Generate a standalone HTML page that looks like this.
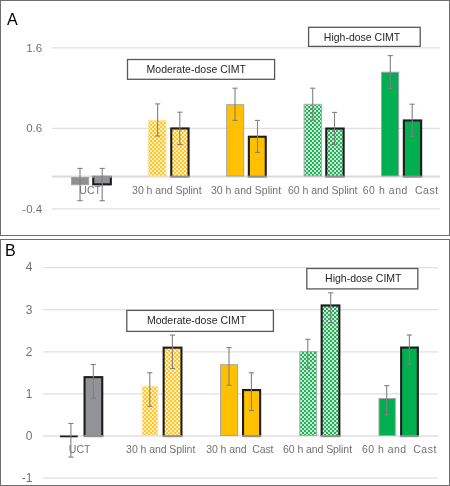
<!DOCTYPE html>
<html><head><meta charset="utf-8"><title>Chart</title>
<style>html,body{margin:0;padding:0;background:#fff;}svg{display:block;}</style>
</head><body>
<svg width="450" height="486" viewBox="0 0 450 486" font-family="Liberation Sans, Arial, sans-serif">
<defs>
<pattern id="pg" width="4" height="4" patternUnits="userSpaceOnUse">
<rect width="4" height="4" fill="#FFC829"/>
<rect x="0" y="0" width="2" height="2" fill="#FFEDC0"/>
<rect x="2" y="2" width="2" height="2" fill="#FFEDC0"/>
</pattern>
<pattern id="pn" width="4" height="4" patternUnits="userSpaceOnUse">
<rect width="4" height="4" fill="#22B25A"/>
<rect x="0" y="0" width="2" height="2" fill="#C8EAD4"/>
<rect x="2" y="2" width="2" height="2" fill="#C8EAD4"/>
</pattern>
</defs>
<rect x="0.5" y="0.5" width="449" height="235" fill="#fff" stroke="#6e6e6e" stroke-width="1"/>
<text x="7" y="25" font-size="16" fill="#000" text-anchor="start">A</text>
<line x1="52" y1="47.90" x2="440" y2="47.90" stroke="#e0e0e0" stroke-width="1.3"/>
<line x1="52" y1="128.40" x2="440" y2="128.40" stroke="#e0e0e0" stroke-width="1.3"/>
<line x1="52" y1="208.80" x2="440" y2="208.80" stroke="#e0e0e0" stroke-width="1.3"/>
<line x1="52" y1="176.50" x2="440" y2="176.50" stroke="#dadada" stroke-width="1.8"/>
<text x="42.2" y="52" font-size="11.5" fill="#727272" text-anchor="end">1.6</text>
<text x="42.2" y="132" font-size="11.5" fill="#727272" text-anchor="end">0.6</text>
<text x="42.2" y="212.6" font-size="11.5" fill="#727272" text-anchor="end">-0.4</text>
<rect x="71.50" y="177.50" width="17.20" height="7.20" fill="#909090" stroke="#a3a3a8" stroke-width="1"/>
<rect x="92.20" y="176.50" width="19.70" height="8.90" fill="#1e1c1c"/>
<rect x="94.30" y="176.50" width="15.50" height="6.80" fill="#929396"/>
<rect x="92.20" y="175.60" width="19.70" height="2.1" fill="#929292"/>
<rect x="148.50" y="120.50" width="17.50" height="55.50" fill="url(#pg)" stroke="#FFE2A0" stroke-width="1"/>
<rect x="170.20" y="127.40" width="19.40" height="49.10" fill="#1e1c1c"/>
<rect x="172.30" y="129.50" width="15.20" height="47.00" fill="url(#pg)"/>
<rect x="170.20" y="175.60" width="19.40" height="2.1" fill="#929292"/>
<rect x="226.70" y="104.70" width="17.00" height="71.30" fill="#FFC000" stroke="#a3a3a8" stroke-width="1"/>
<rect x="247.80" y="135.70" width="19.00" height="40.80" fill="#1e1c1c"/>
<rect x="249.90" y="137.80" width="14.80" height="38.70" fill="#FFC000"/>
<rect x="247.80" y="175.60" width="19.00" height="2.1" fill="#929292"/>
<rect x="304.10" y="104.30" width="17.40" height="71.70" fill="url(#pn)" stroke="#a8b0aa" stroke-width="1"/>
<rect x="325.20" y="127.50" width="19.50" height="49.00" fill="#1e1c1c"/>
<rect x="327.30" y="129.60" width="15.30" height="46.90" fill="url(#pn)"/>
<rect x="325.20" y="175.60" width="19.50" height="2.1" fill="#929292"/>
<rect x="381.50" y="72.20" width="17.20" height="103.80" fill="#00B050" stroke="#a3a3a8" stroke-width="1"/>
<rect x="402.80" y="119.40" width="19.40" height="57.10" fill="#1e1c1c"/>
<rect x="404.90" y="121.50" width="15.20" height="55.00" fill="#00B050"/>
<rect x="402.80" y="175.60" width="19.40" height="2.1" fill="#929292"/>
<line x1="80.00" y1="168.40" x2="80.00" y2="200.70" stroke="#808080" stroke-width="1.1"/><line x1="77.40" y1="168.40" x2="82.60" y2="168.40" stroke="#808080" stroke-width="1.1"/><line x1="77.40" y1="200.70" x2="82.60" y2="200.70" stroke="#808080" stroke-width="1.1"/>
<line x1="102.20" y1="168.40" x2="102.20" y2="200.70" stroke="#808080" stroke-width="1.1"/><line x1="99.60" y1="168.40" x2="104.80" y2="168.40" stroke="#808080" stroke-width="1.1"/><line x1="99.60" y1="200.70" x2="104.80" y2="200.70" stroke="#808080" stroke-width="1.1"/>
<line x1="157.60" y1="103.90" x2="157.60" y2="136.00" stroke="#808080" stroke-width="1.1"/><line x1="155.00" y1="103.90" x2="160.20" y2="103.90" stroke="#808080" stroke-width="1.1"/><line x1="155.00" y1="136.00" x2="160.20" y2="136.00" stroke="#808080" stroke-width="1.1"/>
<line x1="179.80" y1="112.20" x2="179.80" y2="144.60" stroke="#808080" stroke-width="1.1"/><line x1="177.20" y1="112.20" x2="182.40" y2="112.20" stroke="#808080" stroke-width="1.1"/><line x1="177.20" y1="144.60" x2="182.40" y2="144.60" stroke="#808080" stroke-width="1.1"/>
<line x1="235.00" y1="88.20" x2="235.00" y2="120.40" stroke="#808080" stroke-width="1.1"/><line x1="232.40" y1="88.20" x2="237.60" y2="88.20" stroke="#808080" stroke-width="1.1"/><line x1="232.40" y1="120.40" x2="237.60" y2="120.40" stroke="#808080" stroke-width="1.1"/>
<line x1="257.50" y1="120.40" x2="257.50" y2="152.40" stroke="#808080" stroke-width="1.1"/><line x1="254.90" y1="120.40" x2="260.10" y2="120.40" stroke="#808080" stroke-width="1.1"/><line x1="254.90" y1="152.40" x2="260.10" y2="152.40" stroke="#808080" stroke-width="1.1"/>
<line x1="312.70" y1="88.20" x2="312.70" y2="120.20" stroke="#808080" stroke-width="1.1"/><line x1="310.10" y1="88.20" x2="315.30" y2="88.20" stroke="#808080" stroke-width="1.1"/><line x1="310.10" y1="120.20" x2="315.30" y2="120.20" stroke="#808080" stroke-width="1.1"/>
<line x1="334.50" y1="112.40" x2="334.50" y2="144.40" stroke="#808080" stroke-width="1.1"/><line x1="331.90" y1="112.40" x2="337.10" y2="112.40" stroke="#808080" stroke-width="1.1"/><line x1="331.90" y1="144.40" x2="337.10" y2="144.40" stroke="#808080" stroke-width="1.1"/>
<line x1="390.30" y1="55.60" x2="390.30" y2="88.30" stroke="#808080" stroke-width="1.1"/><line x1="387.70" y1="55.60" x2="392.90" y2="55.60" stroke="#808080" stroke-width="1.1"/><line x1="387.70" y1="88.30" x2="392.90" y2="88.30" stroke="#808080" stroke-width="1.1"/>
<line x1="412.20" y1="104.20" x2="412.20" y2="136.70" stroke="#808080" stroke-width="1.1"/><line x1="409.60" y1="104.20" x2="414.80" y2="104.20" stroke="#808080" stroke-width="1.1"/><line x1="409.60" y1="136.70" x2="414.80" y2="136.70" stroke="#808080" stroke-width="1.1"/>
<text x="79.3" y="193.9" font-size="10.5" fill="#727272" text-anchor="start" xml:space="preserve">UCT</text>
<text x="132.1" y="193.9" font-size="10.5" fill="#727272" text-anchor="start" textLength="69.45" lengthAdjust="spacing" xml:space="preserve">30 h and Splint</text>
<text x="211" y="193.9" font-size="10.5" fill="#727272" text-anchor="start" xml:space="preserve">30 h and Splint</text>
<text x="288" y="193.9" font-size="10.5" fill="#727272" text-anchor="start" textLength="69.45" lengthAdjust="spacing" xml:space="preserve">60 h and Splint</text>
<text x="362.7" y="193.9" font-size="10.5" fill="#727272" text-anchor="start" textLength="75.5" lengthAdjust="spacing" xml:space="preserve">60 h and  Cast</text>
<rect x="127.50" y="59.50" width="147.10" height="19.80" fill="#fff" stroke="#595959" stroke-width="1.3"/>
<text x="146.6" y="72.7" font-size="10.5" fill="#262626" text-anchor="start">Moderate-dose CIMT</text>
<rect x="308.60" y="27.30" width="111.60" height="19.10" fill="#fff" stroke="#595959" stroke-width="1.3"/>
<text x="323.8" y="40.8" font-size="10.5" fill="#262626" text-anchor="start">High-dose CIMT</text>
<rect x="0.5" y="239.5" width="449" height="246" fill="#fff" stroke="#6e6e6e" stroke-width="1"/>
<text x="5.1" y="256" font-size="16" fill="#000" text-anchor="start">B</text>
<line x1="43" y1="267.70" x2="438" y2="267.70" stroke="#e0e0e0" stroke-width="1.3"/>
<line x1="43" y1="309.70" x2="438" y2="309.70" stroke="#e0e0e0" stroke-width="1.3"/>
<line x1="43" y1="351.80" x2="438" y2="351.80" stroke="#e0e0e0" stroke-width="1.3"/>
<line x1="43" y1="393.90" x2="438" y2="393.90" stroke="#e0e0e0" stroke-width="1.3"/>
<line x1="43" y1="436.00" x2="438" y2="436.00" stroke="#e0e0e0" stroke-width="1.3"/>
<line x1="43" y1="478.10" x2="438" y2="478.10" stroke="#e0e0e0" stroke-width="1.3"/>
<text x="32.4" y="270.9" font-size="12" fill="#727272" text-anchor="end">4</text>
<text x="32.4" y="313.9" font-size="12" fill="#727272" text-anchor="end">3</text>
<text x="32.4" y="356.0" font-size="12" fill="#727272" text-anchor="end">2</text>
<text x="32.4" y="398.09999999999997" font-size="12" fill="#727272" text-anchor="end">1</text>
<text x="32.4" y="440.2" font-size="12" fill="#727272" text-anchor="end">0</text>
<text x="32.4" y="482.3" font-size="12" fill="#727272" text-anchor="end">-1</text>
<rect x="83.50" y="376.10" width="19.80" height="59.90" fill="#1e1c1c"/>
<rect x="85.60" y="378.20" width="15.60" height="57.80" fill="#929396"/>
<rect x="83.50" y="435.10" width="19.80" height="2.1" fill="#929292"/>
<rect x="142.40" y="386.40" width="15.10" height="49.10" fill="url(#pg)" stroke="#FFE2A0" stroke-width="1"/>
<rect x="162.60" y="346.60" width="19.90" height="89.40" fill="#1e1c1c"/>
<rect x="164.70" y="348.70" width="15.70" height="87.30" fill="url(#pg)"/>
<rect x="162.60" y="435.10" width="19.90" height="2.1" fill="#929292"/>
<rect x="220.60" y="364.70" width="17.00" height="70.80" fill="#FFC000" stroke="#a3a3a8" stroke-width="1"/>
<rect x="242.00" y="389.00" width="19.20" height="47.00" fill="#1e1c1c"/>
<rect x="244.10" y="391.10" width="15.00" height="44.90" fill="#FFC000"/>
<rect x="242.00" y="435.10" width="19.20" height="2.1" fill="#929292"/>
<rect x="299.80" y="351.60" width="16.90" height="83.90" fill="url(#pn)" stroke="#a8b0aa" stroke-width="1"/>
<rect x="320.60" y="304.40" width="19.80" height="131.60" fill="#1e1c1c"/>
<rect x="322.70" y="306.50" width="15.60" height="129.50" fill="url(#pn)"/>
<rect x="320.60" y="435.10" width="19.80" height="2.1" fill="#929292"/>
<rect x="379.00" y="398.50" width="16.30" height="37.00" fill="#00B050" stroke="#a3a3a8" stroke-width="1"/>
<rect x="400.10" y="346.50" width="18.80" height="89.50" fill="#1e1c1c"/>
<rect x="402.20" y="348.60" width="14.60" height="87.40" fill="#00B050"/>
<rect x="400.10" y="435.10" width="18.80" height="2.1" fill="#929292"/>
<rect x="60.1" y="435.50" width="17.6" height="1.8" fill="#1e1c1c"/>
<line x1="70.90" y1="423.50" x2="70.90" y2="457.10" stroke="#808080" stroke-width="1.1"/><line x1="68.30" y1="423.50" x2="73.50" y2="423.50" stroke="#808080" stroke-width="1.1"/><line x1="68.30" y1="457.10" x2="73.50" y2="457.10" stroke="#808080" stroke-width="1.1"/>
<line x1="93.30" y1="364.50" x2="93.30" y2="398.20" stroke="#808080" stroke-width="1.1"/><line x1="90.70" y1="364.50" x2="95.90" y2="364.50" stroke="#808080" stroke-width="1.1"/><line x1="90.70" y1="398.20" x2="95.90" y2="398.20" stroke="#808080" stroke-width="1.1"/>
<line x1="149.80" y1="372.80" x2="149.80" y2="406.30" stroke="#808080" stroke-width="1.1"/><line x1="147.20" y1="372.80" x2="152.40" y2="372.80" stroke="#808080" stroke-width="1.1"/><line x1="147.20" y1="406.30" x2="152.40" y2="406.30" stroke="#808080" stroke-width="1.1"/>
<line x1="172.40" y1="335.10" x2="172.40" y2="368.50" stroke="#808080" stroke-width="1.1"/><line x1="169.80" y1="335.10" x2="175.00" y2="335.10" stroke="#808080" stroke-width="1.1"/><line x1="169.80" y1="368.50" x2="175.00" y2="368.50" stroke="#808080" stroke-width="1.1"/>
<line x1="229.00" y1="347.60" x2="229.00" y2="385.30" stroke="#808080" stroke-width="1.1"/><line x1="226.40" y1="347.60" x2="231.60" y2="347.60" stroke="#808080" stroke-width="1.1"/><line x1="226.40" y1="385.30" x2="231.60" y2="385.30" stroke="#808080" stroke-width="1.1"/>
<line x1="251.40" y1="372.80" x2="251.40" y2="410.60" stroke="#808080" stroke-width="1.1"/><line x1="248.80" y1="372.80" x2="254.00" y2="372.80" stroke="#808080" stroke-width="1.1"/><line x1="248.80" y1="410.60" x2="254.00" y2="410.60" stroke="#808080" stroke-width="1.1"/>
<line x1="307.80" y1="339.30" x2="307.80" y2="368.30" stroke="#808080" stroke-width="1.1"/><line x1="305.20" y1="339.30" x2="310.40" y2="339.30" stroke="#808080" stroke-width="1.1"/><line x1="305.20" y1="368.30" x2="310.40" y2="368.30" stroke="#808080" stroke-width="1.1"/>
<line x1="330.70" y1="292.80" x2="330.70" y2="322.60" stroke="#808080" stroke-width="1.1"/><line x1="328.10" y1="292.80" x2="333.30" y2="292.80" stroke="#808080" stroke-width="1.1"/><line x1="328.10" y1="322.60" x2="333.30" y2="322.60" stroke="#808080" stroke-width="1.1"/>
<line x1="386.70" y1="385.70" x2="386.70" y2="414.80" stroke="#808080" stroke-width="1.1"/><line x1="384.10" y1="385.70" x2="389.30" y2="385.70" stroke="#808080" stroke-width="1.1"/><line x1="384.10" y1="414.80" x2="389.30" y2="414.80" stroke="#808080" stroke-width="1.1"/>
<line x1="409.40" y1="335.00" x2="409.40" y2="364.30" stroke="#808080" stroke-width="1.1"/><line x1="406.80" y1="335.00" x2="412.00" y2="335.00" stroke="#808080" stroke-width="1.1"/><line x1="406.80" y1="364.30" x2="412.00" y2="364.30" stroke="#808080" stroke-width="1.1"/>
<text x="68.8" y="452.9" font-size="10.5" fill="#727272" text-anchor="start" xml:space="preserve">UCT</text>
<text x="126.1" y="452.9" font-size="10.5" fill="#727272" text-anchor="start" textLength="69.2" lengthAdjust="spacing" xml:space="preserve">30 h and Splint</text>
<text x="206.2" y="452.9" font-size="10.5" fill="#727272" text-anchor="start" textLength="67.3" lengthAdjust="spacing" xml:space="preserve">30 h and  Cast</text>
<text x="283" y="452.9" font-size="10.5" fill="#727272" text-anchor="start" textLength="69.05" lengthAdjust="spacing" xml:space="preserve">60 h and Splint</text>
<text x="362" y="452.9" font-size="10.5" fill="#727272" text-anchor="start" textLength="74.3" lengthAdjust="spacing" xml:space="preserve">60 h and  Cast</text>
<rect x="126.80" y="310.40" width="146.60" height="21.00" fill="#fff" stroke="#595959" stroke-width="1.3"/>
<text x="146.9" y="324" font-size="10.5" fill="#262626" text-anchor="start">Moderate-dose CIMT</text>
<rect x="306.80" y="268.50" width="111.00" height="20.40" fill="#fff" stroke="#595959" stroke-width="1.3"/>
<text x="325.1" y="281.9" font-size="10.5" fill="#262626" text-anchor="start">High-dose CIMT</text>
</svg>
</body></html>
